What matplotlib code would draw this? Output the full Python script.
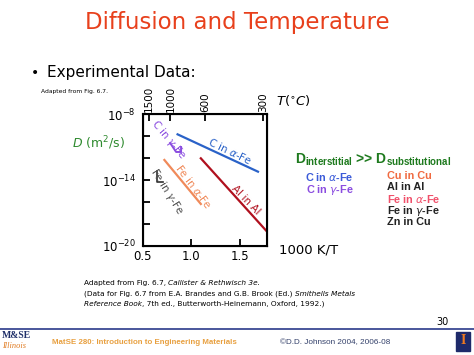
import numpy as np
import matplotlib.pyplot as plt

# axis limits / ticks
x_lim = [0.5, 1.78]
logd_lim = [-20, -8]
x_ticks = [0.5, 1.0, 1.5]
logd_ticks = [-8, -10, -12, -14, -16, -18, -20]
logd_labels = {-8: r'$10^{-8}$', -14: r'$10^{-14}$', -20: r'$10^{-20}$'}
temps_c = [1500, 1000, 600, 300]

# diffusion lines: 1000/T and log10(D)
c_alpha_x = [0.86, 1.69]
c_alpha_logd = [-9.83, -13.24]
c_gamma_x = [0.783, 0.845, 0.896, 0.896]
c_gamma_logd = [-10.62, -11.44, -11.44, -10.99]
fe_alpha_x = [0.724, 1.10]
fe_alpha_logd = [-12.17, -16.19]
al_x = [1.10, 1.784]
al_logd = [-12.02, -18.72]
fe_gamma_x = [0.648, 0.648, 0.71]
fe_gamma_logd = [-13.18, -14.18, -14.18]

W, H = 474, 355
fig = plt.figure(figsize=(W / 100, H / 100), dpi=100)
fig.patch.set_facecolor('white')


def fx(px):
    return px / W


def fy(py):
    return 1 - py / H


# slide title and bullet
fig.text(0.5, fy(23), 'Diffusion and Temperature', color='#e8401c',
         fontsize=16.5, ha='center', va='center')
fig.text(fx(31), fy(73), '\u2022', fontsize=10, va='center')
fig.text(fx(47), fy(73), 'Experimental Data:', fontsize=11, va='center')
fig.text(fx(41), fy(92), 'Adapted from Fig. 6.7.', fontsize=4.3, va='center')

ax = fig.add_axes([fx(142.7), fy(245.7), fx(266.7) - fx(142.7), fy(114.3) - fy(245.7)])
ax.set_xlim(*x_lim)
ax.set_ylim(10.0 ** logd_lim[0], 10.0 ** logd_lim[1])
ax.set_yscale('log')
ax.set_yticks([10.0 ** v for v in logd_ticks])
ax.set_yticklabels([logd_labels.get(v, '') for v in logd_ticks], fontsize=8.5)
ax.yaxis.set_minor_locator(plt.NullLocator())
ax.set_xticks(x_ticks)
ax.set_xticklabels([str(v) for v in x_ticks], fontsize=8.5)
ax.tick_params(direction='in', length=5, width=1.3, pad=3)
ax.tick_params(axis='y', pad=5)
for s in ax.spines.values():
    s.set_linewidth(1.5)

top = ax.twiny()
top.set_xlim(*x_lim)
top.set_xticks([1000.0 / (t + 273) for t in temps_c])
top.set_xticklabels([str(t) for t in temps_c], rotation=90, fontsize=7.5)
top.tick_params(direction='in', length=5, width=1.3, pad=2)

ax.plot(c_alpha_x, [10.0 ** v for v in c_alpha_logd], color='#2a62c8', lw=1.6)
ax.plot(c_gamma_x, [10.0 ** v for v in c_gamma_logd], color='#8a4ce0', lw=1.4)
ax.plot(fe_alpha_x, [10.0 ** v for v in fe_alpha_logd], color='#f08a5a', lw=1.6)
ax.plot(al_x, [10.0 ** v for v in al_logd], color='#b0101e', lw=1.6)
ax.plot(fe_gamma_x, [10.0 ** v for v in fe_gamma_logd], color='#303030', lw=1.2)

lab = dict(ha='center', va='center', fontsize=7.5, rotation_mode='anchor')
ax.text(1.40, 10 ** -11.35, r'C in $\alpha$-Fe', color='#2a62c8', rotation=-26, **lab)
ax.text(0.765, 10 ** -10.3, r'C in $\gamma$-Fe', color='#8a4ce0', rotation=-50, **lab)
ax.text(1.03, 10 ** -14.55, r'Fe in $\alpha$-Fe', color='#f08a5a', rotation=-53, **lab)
ax.text(1.566, 10 ** -15.83, 'Al in Al', color='#b0101e', rotation=-46, **lab)
ax.text(0.75, 10 ** -15.07, r'Fe in $\gamma$-Fe', color='#505050', rotation=-58, **lab)

fig.text(fx(276), fy(100), r'$T(^{\circ}C)$', fontsize=9.5, va='center')
fig.text(fx(72), fy(143), r'$D$ (m$^2$/s)', color='#2e8a2e', fontsize=9, va='center')
fig.text(fx(279), fy(250), '1000 K/T', fontsize=9.5, va='center')

# D interstitial >> D substitutional
green = '#1e7a1e'
fig.text(fx(295), fy(160), r'D$_{\mathregular{interstitial}}$ >> D$_{\mathregular{substitutional}}$',
         color=green, fontsize=10, fontweight='bold', family='Liberation Sans', va='center')
leg = dict(fontsize=7.8, fontweight='bold', family='Liberation Sans', va='center')
fig.text(fx(305), fy(177), r'C in $\alpha$-Fe', color='#3a5ad8', **leg)
fig.text(fx(306), fy(190), r'C in $\gamma$-Fe', color='#8a4ce0', **leg)
fig.text(fx(387), fy(176), 'Cu in Cu', color='#f06a40', **leg)
fig.text(fx(387), fy(187.5), 'Al in Al', color='#222222', **leg)
fig.text(fx(387), fy(199), r'Fe in $\alpha$-Fe', color='#f0506a', **leg)
fig.text(fx(387), fy(210.5), r'Fe in $\gamma$-Fe', color='#222222', **leg)
fig.text(fx(387), fy(222), 'Zn in Cu', color='#222222', **leg)

# citation with italic parts
renderer = fig.canvas.get_renderer()


def rich(x, y, parts, size=5.3):
    for s, st in parts:
        t = fig.text(x, y, s, fontsize=size, style=st, va='center')
        x += t.get_window_extent(renderer).width / fig.bbox.width


rich(fx(84), fy(283), [('Adapted from Fig. 6.7, ', 'normal'), ('Callister & Rethwisch 3e.', 'italic')])
rich(fx(84), fy(294), [('(Data for Fig. 6.7 from E.A. Brandes and G.B. Brook (Ed.) ', 'normal'),
                       ('Smithells Metals', 'italic')])
rich(fx(84), fy(304), [('Reference Book', 'italic'),
                       (', 7th ed., Butterworth-Heinemann, Oxford, 1992.)', 'normal')])

# footer
fig.add_artist(plt.Line2D([0, 1], [fy(329), fy(329)], color='#2a3a8a', lw=1.2))
fig.text(fx(436), fy(322), '30', fontsize=7, va='center')
fig.text(fx(2), fy(335), 'M&SE', fontsize=7, fontweight='bold', color='#20306a', va='center',
         family='Liberation Serif')
fig.text(fx(2), fy(346), 'Illinois', fontsize=6, style='italic', color='#e07a20', va='center',
         family='Liberation Serif')
fig.text(fx(52), fy(343), 'MatSE 280: Introduction to Engineering Materials', color='#e8a040',
         fontsize=5.7, fontweight='bold', family='Liberation Sans', va='center')
fig.text(fx(280), fy(343), '\u00a9D.D. Johnson 2004, 2006-08', color='#33406a',
         fontsize=5.9, family='Liberation Sans', va='center')
fig.add_artist(plt.Rectangle((fx(456), fy(351)), fx(14), fy(332) - fy(351), color='#1e2a6a',
                             transform=fig.transFigure))
fig.text(fx(463), fy(340), 'I', color='#f07a20', fontsize=10, fontweight='bold', ha='center',
         va='center', family='Liberation Serif')

fig.savefig('out.png', dpi=100)
